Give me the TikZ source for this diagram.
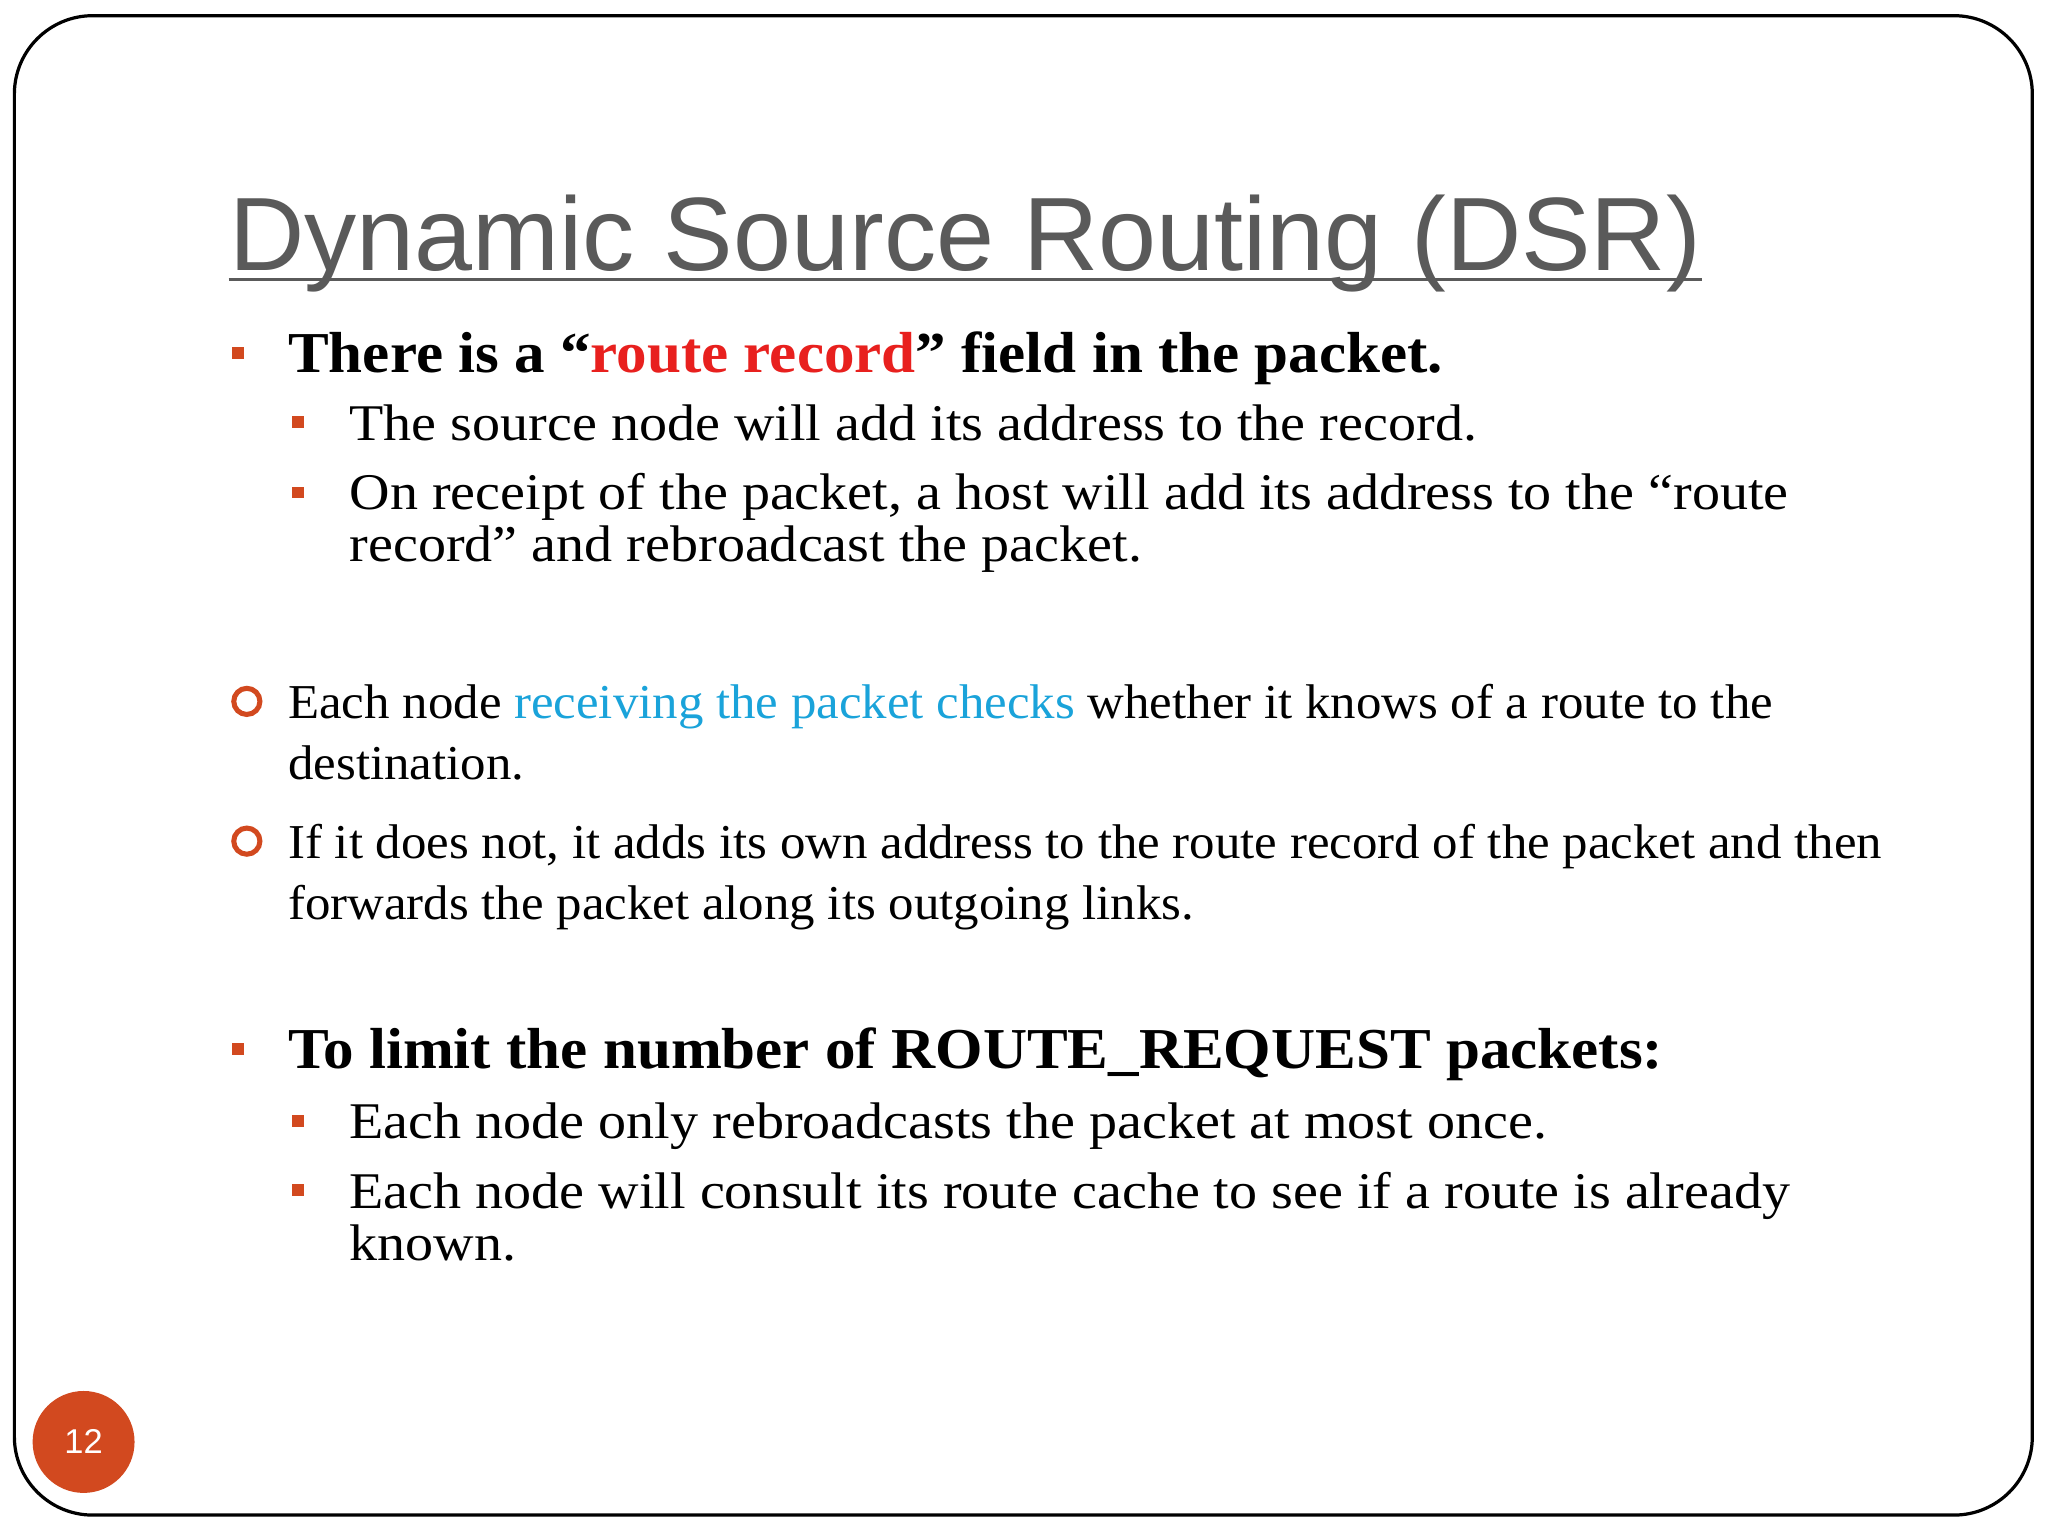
\documentclass[tikz,border=0pt]{standalone}
\usepackage{fontspec}
\setmainfont{Liberation Serif}
\newfontfamily\titlefont{Liberation Sans}
\newfontfamily\boldf[FakeStretch=1.055]{Liberation Serif}
\newfontfamily\subf[FakeStretch=1.09]{Liberation Serif}
\newfontfamily\lvlf[FakeStretch=1.045]{Liberation Serif}
\definecolor{orng}{HTML}{D2491F}
\definecolor{redt}{HTML}{E8201E}
\definecolor{bluet}{HTML}{1AA3DA}
\definecolor{titleg}{HTML}{5A5A5A}
\tikzset{
  txt/.style={anchor=base west,inner sep=0pt,text=black},
  bold/.style={txt,font=\boldf\fontsize{12.6pt}{14pt}\selectfont\bfseries},
  sub/.style={txt,font=\subf\fontsize{11.2pt}{13pt}\selectfont},
  lvl/.style={txt,font=\lvlf\fontsize{10.6pt}{13pt}\selectfont},
  sq/.style={fill=orng,minimum size=0.09cm,inner sep=0pt},
  ring/.style={circle,draw=orng,line width=1.1pt,minimum size=0.2cm,inner sep=0pt}
}
\begin{document}
\begin{tikzpicture}[x=0.01cm,y=-0.01cm]
\useasboundingbox (0,0) rectangle (1568,1176);
\fill[white] (0,0) rectangle (1568,1176);
\draw[line width=0.7pt,rounded corners=0.6cm] (11,12) rectangle (1556,1160);
% title
\node[anchor=base west,inner sep=0pt,text=titleg,font=\titlefont\fontsize{22.7pt}{26pt}\selectfont] (title) at (175,207) {Dynamic Source Routing (DSR)};
\draw[titleg,line width=0.8pt] ([yshift=-0.07cm]title.base west) -- ([yshift=-0.07cm]title.base east);
% bullet 1
\node[sq] (b1) at (182,270) {};
\node[bold] (t1) at (220,285) {There is a “\textcolor{redt}{route record}” field in the packet.};
\node[sq] (b11) at (228,323) {};
\node[sub] (t11) at (267,337) {The source node will add its address to the record.};
\node[sq] (b12) at (228,377) {};
\node[sub] (t12) at (267,390) {On receipt of the packet, a host will add its address to the “route};
\node[sub] (t12b) at (267,430) {record” and rebroadcast the packet.};
% ring bullets
\node[ring] (r1) at (189,537) {};
\node[lvl] (t2) at (220,550) {Each node \textcolor{bluet}{receiving the packet checks} whether it knows of a route to the};
\node[lvl] (t2b) at (220,597) {destination.};
\node[ring] (r2) at (189,644) {};
\node[lvl] (t3) at (220,657) {If it does not, it adds its own address to the route record of the packet and then};
\node[lvl] (t3b) at (220,704) {forwards the packet along its outgoing links.};
% bullet 3
\node[sq] (b3) at (182,803) {};
\node[bold] (t4) at (220,818) {To limit the number of ROUTE\_REQUEST packets:};
\node[sq] (b31) at (228,858) {};
\node[sub] (t41) at (267,872) {Each node only rebroadcasts the packet at most once.};
\node[sq] (b32) at (228,911) {};
\node[sub] (t42) at (267,925) {Each node will consult its route cache to see if a route is already};
\node[sub] (t42b) at (267,965) {known.};
% page number
\node[circle,fill=orng,minimum size=0.78cm,inner sep=0pt,text=white,font=\titlefont\fontsize{7.5pt}{9pt}\selectfont] (pg) at (64,1104) {12};
\end{tikzpicture}
\end{document}
